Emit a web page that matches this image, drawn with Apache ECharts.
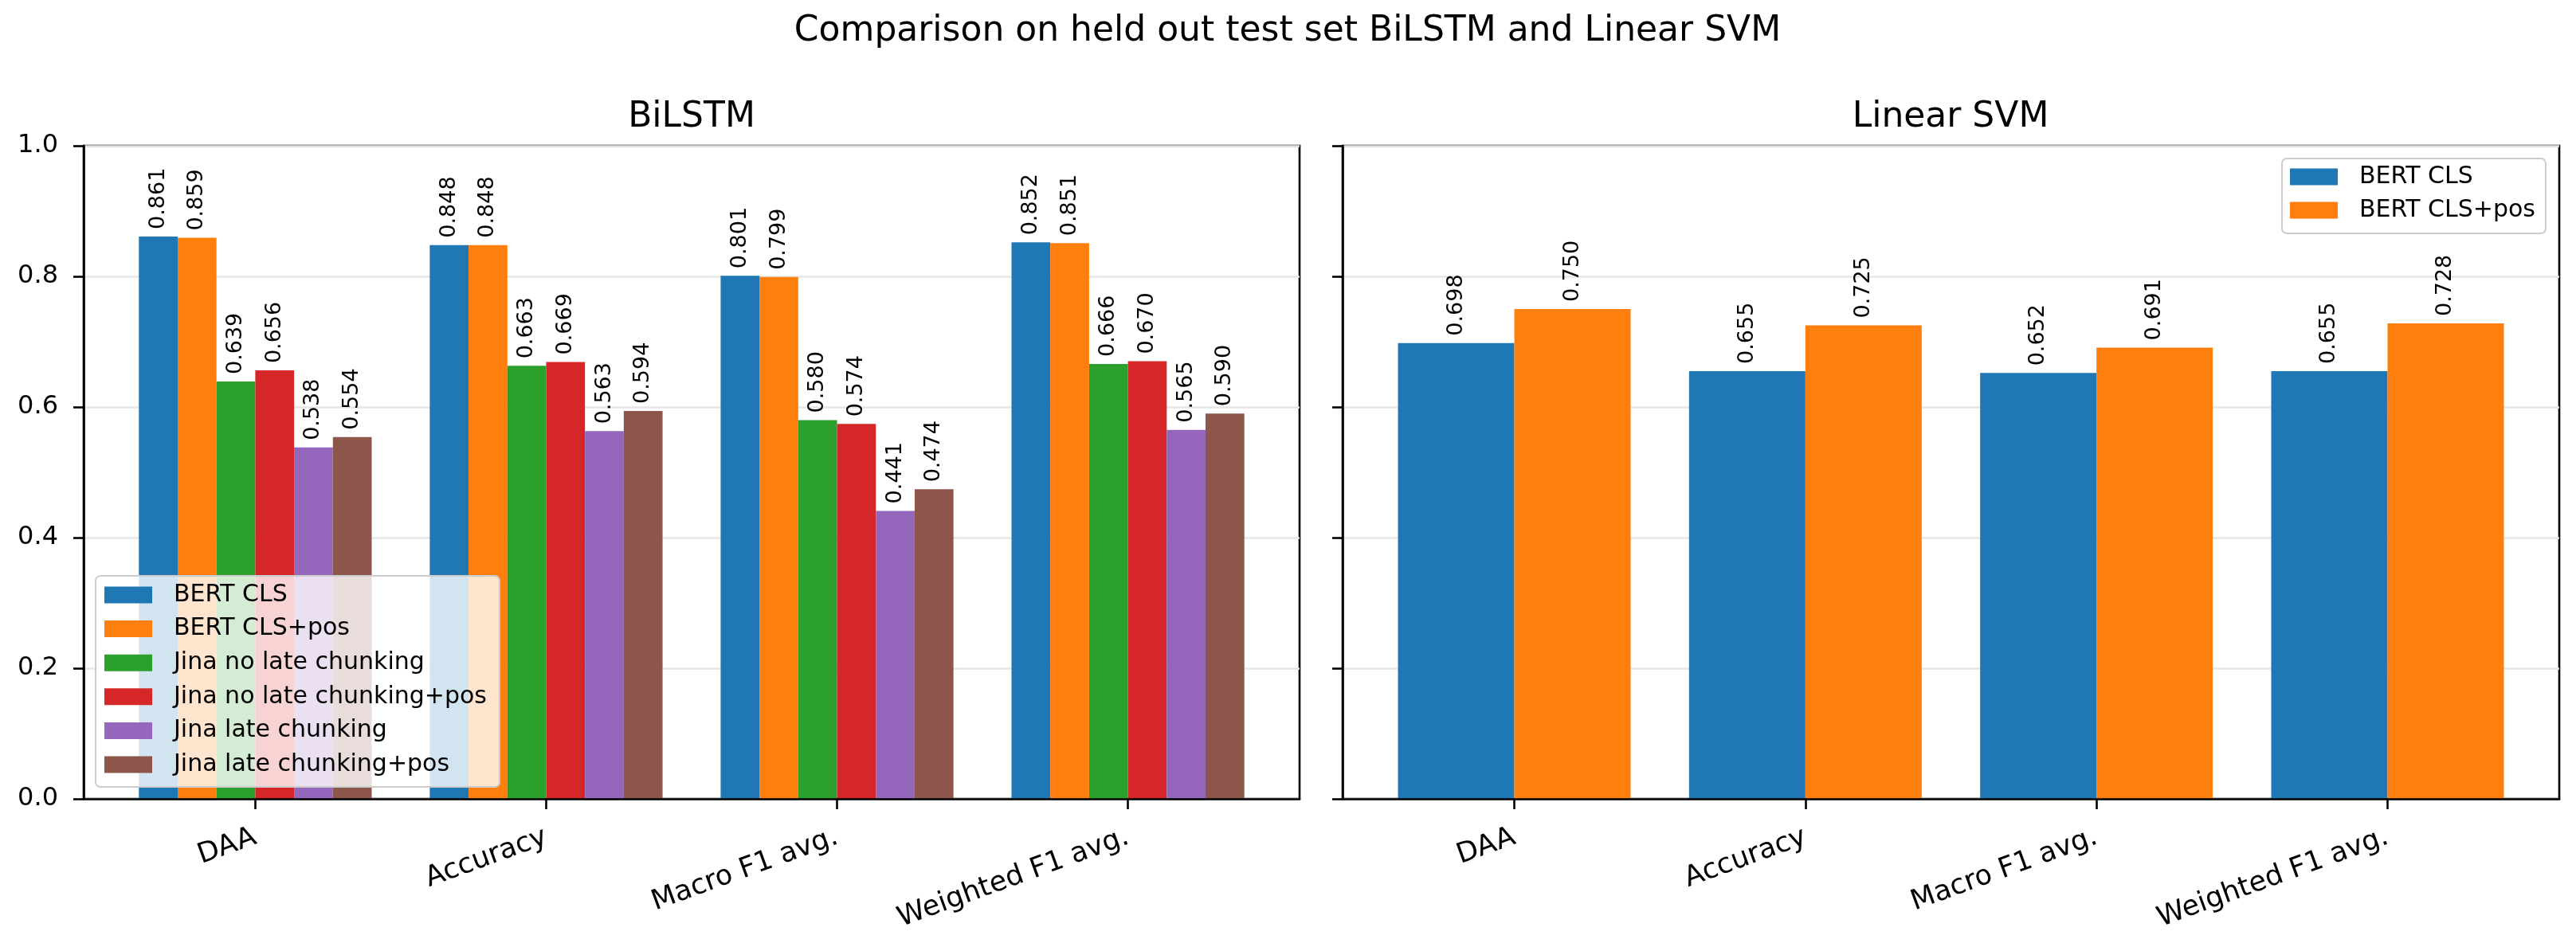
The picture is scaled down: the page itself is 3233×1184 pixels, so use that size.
<!DOCTYPE html>
<html>
<head>
<meta charset="utf-8">
<title>Comparison on held out test set BiLSTM and Linear SVM</title>
<script src="https://cdn.jsdelivr.net/npm/echarts@6.0.0/dist/echarts.min.js"></script>
<style>
html, body { margin: 0; padding: 0; background: #fff; }
#main { width: 3233px; height: 1184px; }
</style>
</head>
<body>
<div id="main"></div>
<script>
// categories
var metrics = ['DAA', 'Accuracy', 'Macro F1 avg.', 'Weighted F1 avg.'];
var yTicks = [0, 0.2, 0.4, 0.6, 0.8, 1.0];

// BiLSTM
var bilstmNames = ['BERT CLS', 'BERT CLS+pos', 'Jina no late chunking', 'Jina no late chunking+pos', 'Jina late chunking', 'Jina late chunking+pos'];
var bilstmBertCls      = [0.861, 0.848, 0.801, 0.852];
var bilstmBertClsPos   = [0.859, 0.848, 0.799, 0.851];
var bilstmJinaNoLate   = [0.639, 0.663, 0.580, 0.666];
var bilstmJinaNoLatePos= [0.656, 0.669, 0.574, 0.670];
var bilstmJinaLate     = [0.538, 0.563, 0.441, 0.565];
var bilstmJinaLatePos  = [0.554, 0.594, 0.474, 0.590];

// Linear SVM
var svmNames = ['BERT CLS', 'BERT CLS+pos'];
var svmBertCls    = [0.698, 0.655, 0.652, 0.655];
var svmBertClsPos = [0.750, 0.725, 0.691, 0.728];

var FONT = 'DejaVu Sans';
var colors = ['#1f77b4', '#ff7f0e', '#2ca02c', '#d62728', '#9467bd', '#8c564b'];

var chart = echarts.init(document.getElementById('main'), null, {renderer: 'canvas'});

function toPoints(vals) {
	return vals.map(function(v, i) { return [i, v]; });
}

function makeBar(name, vals, idx, color, width) {
	return {
		name: name,
		type: 'bar',
		xAxisIndex: idx,
		yAxisIndex: idx,
		data: toPoints(vals),
		barWidth: width,
		barGap: '0%',
		itemStyle: {color: color},
		emphasis: {disabled: true},
		label: {
			show: true,
			position: 'top',
			rotate: 90,
			align: 'left',
			verticalAlign: 'middle',
			distance: 9,
			fontSize: 27,
			fontFamily: FONT,
			color: '#000',
			formatter: function(p) { return p.value[1].toFixed(3); }
		}
	};
}

function makeX(idx) {
	return {
		type: 'value',
		gridIndex: idx,
		min: -0.59,
		max: 3.59,
		z: 5,
		axisLine: {show: true, onZero: false, lineStyle: {color: '#000', width: 2.6}},
		axisTick: {show: true, customValues: [0, 1, 2, 3], length: 13, lineStyle: {color: '#000', width: 2.6}},
		axisLabel: {
			customValues: [0, 1, 2, 3],
			rotate: 20,
			margin: 47,
			fontSize: 35,
			fontFamily: FONT,
			color: '#000',
			formatter: function(v) { return metrics[Math.round(v)]; }
		},
		splitLine: {show: false}
	};
}

function makeY(idx) {
	return {
		type: 'value',
		gridIndex: idx,
		min: yTicks[0],
		max: yTicks[yTicks.length - 1],
		interval: 0.2,
		axisLine: {show: true, onZero: false, lineStyle: {color: '#000', width: 2.6}},
		axisTick: {show: true, length: 13, lineStyle: {color: '#000', width: 2.6}},
		axisLabel: {
			show: idx === 0,
			margin: 32,
			fontSize: 32,
			fontFamily: FONT,
			color: '#000',
			formatter: function(v) { return v.toFixed(1); }
		},
		splitLine: {show: true, lineStyle: {color: '#e6e6e6', width: 2.6}}
	};
}

var legendText = {fontSize: 30, fontFamily: FONT, color: '#000', lineHeight: 30, padding: [0, 0, 0, 22]};

var series = [];
var bilstmVals = [bilstmBertCls, bilstmBertClsPos, bilstmJinaNoLate, bilstmJinaNoLatePos, bilstmJinaLate, bilstmJinaLatePos];
for (var i = 0; i < bilstmNames.length; i++) {
	series.push(makeBar(bilstmNames[i], bilstmVals[i], 0, colors[i], 48.7));
}
var svmVals = [svmBertCls, svmBertClsPos];
for (var j = 0; j < svmNames.length; j++) {
	series.push(makeBar(svmNames[j], svmVals[j], 1, colors[j], 146));
}

var option = {
	animation: false,
	backgroundColor: '#fff',
	graphic: [
		{type: 'text', x: 1616, y: 40, style: {text: 'Comparison on held out test set BiLSTM and Linear SVM', fontSize: 44, fontFamily: FONT, fill: '#000', align: 'center', verticalAlign: 'middle'}},
		{type: 'text', x: 868, y: 148, style: {text: 'BiLSTM', fontSize: 44, fontFamily: FONT, fill: '#000', align: 'center', verticalAlign: 'middle'}},
		{type: 'text', x: 2448, y: 148, style: {text: 'Linear SVM', fontSize: 44, fontFamily: FONT, fill: '#000', align: 'center', verticalAlign: 'middle'}}
	],
	grid: [
		{left: 105, top: 183, width: 1526, height: 820, show: true, borderColor: '#000', borderWidth: 2.6, backgroundColor: 'rgba(0,0,0,0)', outerBoundsMode: 'none'},
		{left: 1685, top: 183, width: 1527, height: 820, show: true, borderColor: '#000', borderWidth: 2.6, backgroundColor: 'rgba(0,0,0,0)', outerBoundsMode: 'none'}
	],
	xAxis: [makeX(0), makeX(1)],
	yAxis: [makeY(0), makeY(1)],
	legend: [
		{
			data: bilstmNames,
			orient: 'vertical',
			left: 120, top: 723,
			icon: 'rect', itemWidth: 60, itemHeight: 21, itemGap: 12.6,
			padding: [9, 16, 13, 11],
			backgroundColor: 'rgba(255,255,255,0.8)',
			borderColor: '#cccccc', borderWidth: 2, borderRadius: 6,
			selectedMode: false,
			textStyle: legendText
		},
		{
			data: svmNames,
			orient: 'vertical',
			left: 2864, top: 199,
			icon: 'rect', itemWidth: 60, itemHeight: 21, itemGap: 12,
			padding: [8, 13, 14, 10],
			backgroundColor: 'rgba(255,255,255,0.8)',
			borderColor: '#cccccc', borderWidth: 2, borderRadius: 6,
			selectedMode: false,
			textStyle: legendText
		}
	],
	series: series
};

chart.setOption(option);
</script>
</body>
</html>
